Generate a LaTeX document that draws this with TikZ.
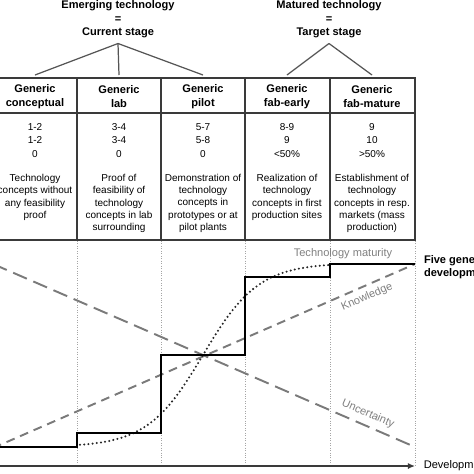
\documentclass[tikz,border=0pt]{standalone}
\usepackage{fontspec}
\setmainfont{Liberation Sans}
\usepackage{tikz}
\usetikzlibrary{arrows.meta, positioning}
\usepackage{xcolor}
\definecolor{ruleink}{HTML}{3A3A3A}
\definecolor{branchink}{HTML}{555555}
\definecolor{curvegray}{HTML}{7A7A7A}
\definecolor{labelgray}{HTML}{7F7F7F}
\definecolor{gridgray}{HTML}{A5A5A5}
\tikzset{
    titletext/.style={font=\fontsize{6.3}{7.7}\selectfont\bfseries, align=center, inner sep=0pt, outer sep=3pt},
    headtext/.style={font=\fontsize{6.3}{7.9}\selectfont\bfseries, align=center, inner sep=0pt},
    celltext/.style={font=\fontsize{5.7}{6.9}\selectfont, align=center, inner sep=0pt, anchor=north},
    tablerule/.style={draw=ruleink, line width=1.2pt},
    branch/.style={draw=branchink, line width=0.7pt},
    stageborder/.style={draw=gridgray, line width=0.4pt, densely dotted},
    stairline/.style={draw=black, line width=1.6pt, line join=miter},
    maturitycurve/.style={draw=black!85, line width=1.3pt, line cap=round, dash pattern=on 0pt off 2.4pt},
    knowledgeline/.style={draw=curvegray, line width=1.1pt, dash pattern=on 5pt off 3.4pt},
    uncertaintyline/.style={draw=curvegray, line width=1.1pt, dash pattern=on 8.5pt off 4pt},
    curvelabel/.style={font=\fontsize{6.3}{7.5}\selectfont, text=labelgray, inner sep=1pt},
    axisline/.style={draw=ruleink, line width=0.8pt, -{Latex[length=4pt, width=3.5pt]}},
}

\begin{document}
\begin{tikzpicture}[x=0.02cm, y=-0.02cm]
    \clip (0,0) rectangle (474,474);
    % Emerging technology
    \node[titletext, anchor=south] (emerging) at (118,43.5) {Emerging technology\\=\\Current stage};
    \coordinate (conceptualtop) at (35,75);
    \coordinate (labtop) at (119,75);
    \coordinate (pilottop) at (203,75);
    \draw[branch] (emerging.south) -- (conceptualtop);
    \draw[branch] (emerging.south) -- (labtop);
    \draw[branch] (emerging.south) -- (pilottop);
    % Matured technology
    \node[titletext, anchor=south] (matured) at (329,43.5) {Matured technology\\=\\Target stage};
    \coordinate (earlytop) at (287,75);
    \coordinate (maturetop) at (372,75);
    \draw[branch] (matured.south) -- (earlytop);
    \draw[branch] (matured.south) -- (maturetop);
    % Table
    \draw[tablerule] (-7,78) rectangle (415,240);
    \draw[tablerule] (-7,113) -- (415,113);
    \draw[tablerule] (77,78) -- (77,240);
    \draw[tablerule] (161,78) -- (161,240);
    \draw[tablerule] (245,78) -- (245,240);
    \draw[tablerule] (330,78) -- (330,240);
    % Generic conceptual
    \node[headtext] (conceptual) at (35,96.5) {Generic\\conceptual};
    \node[celltext] (conceptualbody) at (35,123) {1-2\\[0.8pt]1-2\\[0.8pt]0\\[7pt]Technology\\concepts without\\any feasibility\\proof};
    % Generic lab
    \node[headtext] (lab) at (119,96.5) {Generic\\lab};
    \node[celltext] (labbody) at (119,123) {3-4\\[0.8pt]3-4\\[0.8pt]0\\[7pt]Proof of\\feasibility of\\technology\\concepts in lab\\surrounding};
    % Generic pilot
    \node[headtext] (pilot) at (203,96.5) {Generic\\pilot};
    \node[celltext] (pilotbody) at (203,123) {5-7\\[0.8pt]5-8\\[0.8pt]0\\[7pt]Demonstration of\\technology\\concepts in\\prototypes or at\\pilot plants};
    % Generic fab-early
    \node[headtext] (early) at (287,96.5) {Generic\\fab-early};
    \node[celltext] (earlybody) at (287,123) {8-9\\[0.8pt]9\\[0.8pt]<50\%\\[7pt]Realization of\\technology\\concepts in first\\production sites};
    % Generic fab-mature
    \node[headtext] (mature) at (372,96.5) {Generic\\fab-mature};
    \node[celltext] (maturebody) at (372,123) {9\\[0.8pt]10\\[0.8pt]>50\%\\[7pt]Establishment of\\technology\\concepts in resp.\\markets (mass\\production)};
    % Stage borders
    \draw[stageborder] (77,241) -- (77,466);
    \draw[stageborder] (161,241) -- (161,466);
    \draw[stageborder] (245,241) -- (245,466);
    \draw[stageborder] (330,241) -- (330,466);
    \draw[stageborder] (415,241) -- (415,466);
    % Axis
    \coordinate (origin) at (-7,466);
    \node[font=\fontsize{6.3}{7.5}\selectfont, anchor=west, inner sep=0pt, outer sep=5pt] (devel) at (415,466) {Development stage};
    \draw[axisline] (origin) -- (devel.west);
    % Curves
    \draw[uncertaintyline] (-7,264) -- (415,447);
    \draw[knowledgeline] (-7,448) -- (415,264);
    \draw[maturitycurve] plot[domain=80:330, samples=60, smooth] ({\x},{355-92*tanh(0.018*(\x-203))});
    \draw[stairline] (-7,447) -- (77,447) -- (77,433) -- (161,433) -- (161,355) -- (245,355) -- (245,277) -- (330,277) -- (330,264) -- (415,264);
    % Labels
    \node[curvelabel] (maturitylabel) at (343,254) {Technology maturity};
    \node[curvelabel, rotate=23.6] (knowledgelabel) at (367,297) {Knowledge};
    \node[curvelabel, rotate=-23.5] (uncertaintylabel) at (368,414) {Uncertainty};
    \node[titletext, align=left, anchor=west, outer sep=0pt] (fivestages) at (424,267) {Five generic\\development stages};
\end{tikzpicture}
\end{document}
